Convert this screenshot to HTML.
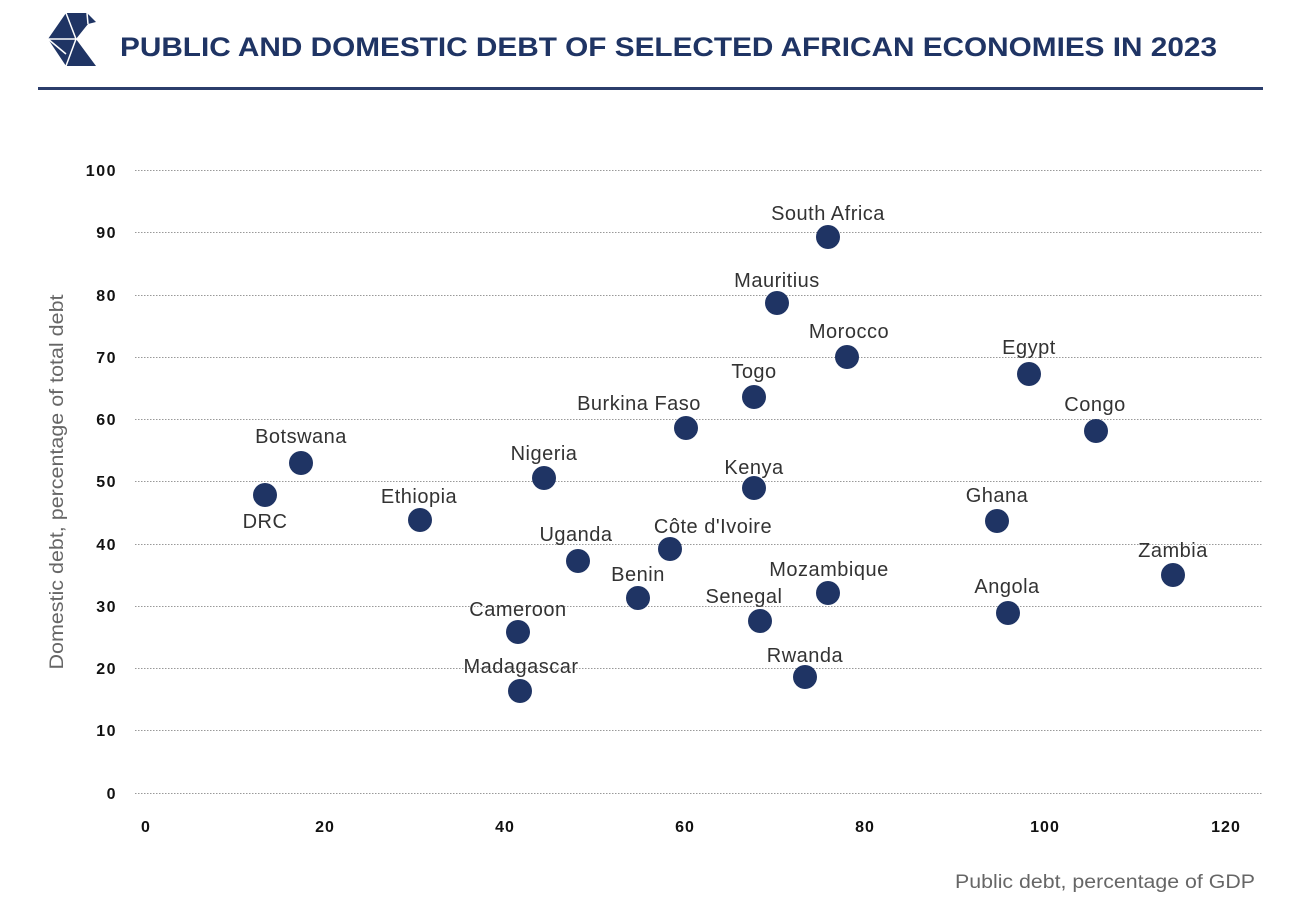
<!DOCTYPE html>
<html><head><meta charset="utf-8"><style>
body{margin:0;background:#fff;}
svg{display:block;font-family:"Liberation Sans",sans-serif;}
</style></head><body>
<svg width="1300" height="905" viewBox="0 0 1300 905" xmlns="http://www.w3.org/2000/svg">
<g fill="#1f3464">
<polygon points="48,39 66,13 87,13 96,22 88,24 76,39 96,66 66,66"/>
</g>
<g stroke="#fff" stroke-width="1.5">
<line x1="48" y1="39" x2="76" y2="39"/>
<line x1="66" y1="13" x2="76" y2="39"/>
<line x1="76" y1="39" x2="66" y2="66"/>
<line x1="48" y1="39" x2="66" y2="54"/>
<line x1="87" y1="13" x2="88" y2="24"/>
</g>
<text x="120" y="56" font-size="27" font-weight="bold" fill="#1f3464" textLength="1097" lengthAdjust="spacingAndGlyphs">PUBLIC AND DOMESTIC DEBT OF SELECTED AFRICAN ECONOMIES IN 2023</text>
<rect x="38" y="87" width="1225" height="3" fill="#2b3d6b"/>
<g stroke="#999" stroke-width="1" stroke-dasharray="1.5,1.5">
<line x1="135" x2="1262" y1="170.5" y2="170.5"/><line x1="135" x2="1262" y1="232.5" y2="232.5"/>
<line x1="135" x2="1262" y1="295.5" y2="295.5"/><line x1="135" x2="1262" y1="357.5" y2="357.5"/>
<line x1="135" x2="1262" y1="419.5" y2="419.5"/><line x1="135" x2="1262" y1="481.5" y2="481.5"/>
<line x1="135" x2="1262" y1="544.5" y2="544.5"/><line x1="135" x2="1262" y1="606.5" y2="606.5"/>
<line x1="135" x2="1262" y1="668.5" y2="668.5"/><line x1="135" x2="1262" y1="730.5" y2="730.5"/>
<line x1="135" x2="1262" y1="793.5" y2="793.5"/>
</g>
<g font-size="16" font-weight="bold" fill="#111" text-anchor="end" letter-spacing="1.5">
<text x="117" y="176">100</text><text x="117" y="238">90</text><text x="117" y="301">80</text>
<text x="117" y="363">70</text><text x="117" y="425">60</text><text x="117" y="487">50</text>
<text x="117" y="550">40</text><text x="117" y="612">30</text><text x="117" y="674">20</text>
<text x="117" y="736">10</text><text x="117" y="799">0</text>
</g>
<g font-size="16" font-weight="bold" fill="#111" text-anchor="middle" letter-spacing="1">
<text x="146" y="832">0</text><text x="325" y="832">20</text><text x="505" y="832">40</text>
<text x="685" y="832">60</text><text x="865" y="832">80</text><text x="1045" y="832">100</text><text x="1226" y="832">120</text>
</g>
<text transform="translate(63,482) rotate(-90)" font-size="19" fill="#666" text-anchor="middle" textLength="375" lengthAdjust="spacingAndGlyphs">Domestic debt, percentage of total debt</text>
<text x="955" y="888" font-size="19" fill="#666" textLength="300" lengthAdjust="spacingAndGlyphs">Public debt, percentage of GDP</text>
<g fill="#1f3464">
<circle cx="828" cy="237" r="12"/><circle cx="777" cy="303" r="12"/><circle cx="847" cy="357" r="12"/>
<circle cx="1029" cy="374" r="12"/><circle cx="754" cy="397" r="12"/><circle cx="1096" cy="431" r="12"/>
<circle cx="686" cy="428" r="12"/><circle cx="301" cy="463" r="12"/><circle cx="544" cy="478" r="12"/>
<circle cx="754" cy="488" r="12"/><circle cx="265" cy="495" r="12"/><circle cx="420" cy="520" r="12"/>
<circle cx="997" cy="521" r="12"/><circle cx="670" cy="549" r="12"/><circle cx="578" cy="561" r="12"/>
<circle cx="1173" cy="575" r="12"/><circle cx="828" cy="593" r="12"/><circle cx="638" cy="598" r="12"/>
<circle cx="1008" cy="613" r="12"/><circle cx="760" cy="621" r="12"/><circle cx="518" cy="632" r="12"/>
<circle cx="520" cy="691" r="12"/><circle cx="805" cy="677" r="12"/>
</g>
<g font-size="20" fill="#333" text-anchor="middle" letter-spacing="0.5">
<text x="828" y="220">South Africa</text><text x="777" y="287">Mauritius</text><text x="849" y="338">Morocco</text>
<text x="1029" y="354">Egypt</text><text x="754" y="378">Togo</text><text x="1095" y="411">Congo</text>
<text x="639" y="410">Burkina Faso</text><text x="301" y="443">Botswana</text><text x="544" y="460">Nigeria</text>
<text x="754" y="474">Kenya</text><text x="265" y="528">DRC</text><text x="419" y="503">Ethiopia</text>
<text x="997" y="502">Ghana</text><text x="713" y="533">Côte d'Ivoire</text><text x="576" y="541">Uganda</text>
<text x="1173" y="557">Zambia</text><text x="829" y="576">Mozambique</text><text x="638" y="581">Benin</text>
<text x="1007" y="593">Angola</text><text x="744" y="603">Senegal</text><text x="518" y="616">Cameroon</text>
<text x="521" y="673">Madagascar</text><text x="805" y="662">Rwanda</text>
</g>
</svg>
</body></html>
